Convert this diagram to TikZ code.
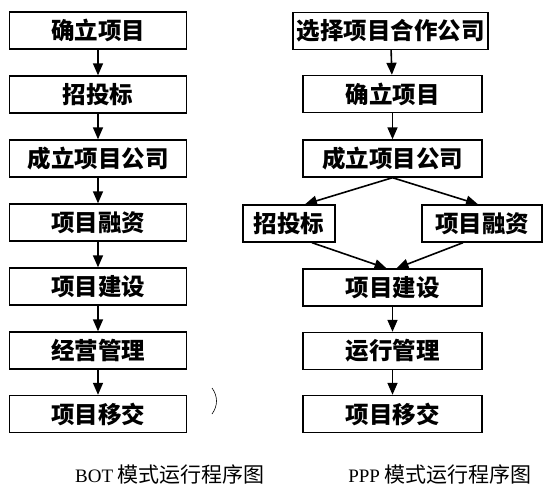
\documentclass[tikz,border=0pt]{standalone}
\usepackage{fontspec}
\setmainfont{Liberation Serif}
\newfontfamily\cjk{Noto Sans CJK SC}
\usetikzlibrary{arrows.meta}

\begin{document}
\begin{tikzpicture}[x=1pt, y=-1pt,
		every node/.style={draw, line width=1.4pt, minimum height=37pt, inner sep=0pt, font=\cjk\bfseries\fontsize{23.5}{24}\selectfont},
		flow/.style={-{Triangle[width=10pt, length=12pt]}, line width=1.6pt},
		caption/.style={draw=none, font=\fontsize{19}{19}\selectfont}]
		\useasboundingbox (0,0) rectangle (549,490);
		% BOT
		\node[minimum width=177pt] (b1) at (98, 30.5) {确立项目};
		\node[minimum width=177pt] (b2) at (98, 94.5) {招投标};
		\node[minimum width=177pt] (b3) at (98, 158.5) {成立项目公司};
		\node[minimum width=177pt] (b4) at (98, 222.5) {项目融资};
		\node[minimum width=177pt] (b5) at (98, 286.5) {项目建设};
		\node[minimum width=177pt] (b6) at (98, 350.5) {经营管理};
		\node[minimum width=177pt] (b7) at (98, 414) {项目移交};
		\foreach \i/\j in {b1/b2, b2/b3, b3/b4, b4/b5, b5/b6, b6/b7}
			\draw[flow] (\i) -- (\j);
		% PPP
		\node[minimum width=195pt] (p1) at (390.5, 31) {选择项目合作公司};
		\node[minimum width=179pt] (p2) at (392.5, 94) {确立项目};
		\node[minimum width=179pt] (p3) at (392.5, 158.5) {成立项目公司};
		\node[minimum width=92pt] (p4) at (289, 223.5) {招投标};
		\node[minimum width=120pt] (p5) at (482, 223.5) {项目融资};
		\node[minimum width=179pt] (p6) at (392.5, 287.5) {项目建设};
		\node[minimum width=179pt] (p7) at (392.5, 351) {运行管理};
		\node[minimum width=179pt] (p8) at (392.5, 414) {项目移交};
		\draw[flow] (p1) -- (p2);
		\draw[flow] (p2) -- (p3);
		\draw[flow] (p3.south) -- ([xshift=16pt]p4.north);
		\draw[flow] (p3.south) -- ([xshift=-4pt]p5.north);
		\draw[flow] ([xshift=23pt]p4.south) -- ([xshift=-6pt]p6.north);
		\draw[flow] ([xshift=-19pt]p5.south) -- ([xshift=4pt]p6.north);
		\draw[flow] (p6) -- (p7);
		\draw[flow] (p7) -- (p8);
		\draw[line width=0.6pt] (212,388) .. controls (218,396) and (218,406) .. (212,414);
		\node[caption] (botcap) at (170, 475) {BOT {\cjk\fontsize{21}{21}\selectfont 模式运行程序图}};
		\node[caption] (pppcap) at (440, 475) {PPP {\cjk\fontsize{21}{21}\selectfont 模式运行程序图}};
	\end{tikzpicture}
\end{document}
